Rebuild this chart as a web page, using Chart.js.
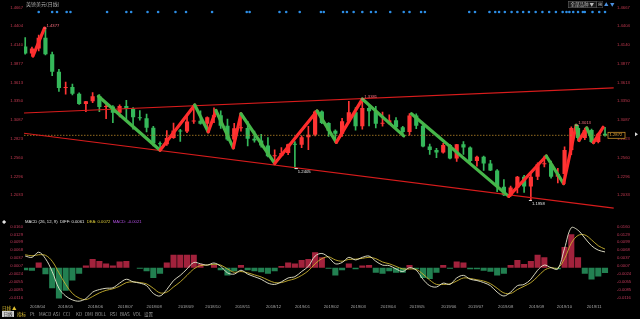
<!DOCTYPE html>
<html lang="zh-CN">
<head>
<meta charset="UTF-8">
<title>英镑美元(日线)</title>
<script src="https://cdn.jsdelivr.net/npm/chart.js"></script>
<style>
  html, body { margin: 0; padding: 0; background: #000; }
  body { position: relative; width: 640px; height: 319px; overflow: hidden; font-family: "Noto Sans CJK SC", "Liberation Sans", sans-serif; }
  canvas { position: absolute; left: 0; }
  #main { top: 0; }
  #macd { top: 218px; }
  .half { position: absolute; transform: scale(0.5); transform-origin: 0 0; white-space: nowrap; font-size: 9px; line-height: 12px; color: #9a9a9a; }
  .half span { position: absolute; top: 0; }
  .box { background: #cfcfcf; color: #111; padding: 0 3px; }
  .yel { color: #e0c030; }
</style>
</head>
<body>
<canvas id="main" width="640" height="218"></canvas>
<canvas id="macd" width="640" height="93"></canvas>

<div class="half" style="left:568px;top:1px;width:120px;height:14px;">
  <span style="left:0;border:1px solid #666;background:#1a1a1a;padding:0 4px;color:#bbb;">全部品种 ▼</span>
  <span style="left:56px;border:1px solid #555;padding:0 2px;color:#bbb;">⊞</span>
  <span style="left:72px;color:#4a90e0;">▲</span>
  <span style="left:84px;color:#4a90e0;">▼</span>
</div>
<div class="half" style="left:2px;top:305px;width:40px;height:12px;"><span class="yel" style="left:0;">日线 ▲</span></div>
<div class="half" style="left:0;top:311px;width:1280px;height:16px;">
  <span class="box" style="left:4px;">日线</span>
  <span class="yel" style="left:34px;">指标</span>
  <span style="left:60px;">Pt</span>
  <span style="left:78px;">MACD</span>
  <span style="left:106px;">ASI</span>
  <span style="left:126px;">CCI</span>
  <span style="left:152px;">KD</span>
  <span style="left:170px;">DMI</span>
  <span style="left:190px;">BOLL</span>
  <span style="left:220px;">RSI</span>
  <span style="left:240px;">BIAS</span>
  <span style="left:266px;">VOL</span>
  <span style="left:288px;">设置</span>
</div>

<script>
// weekly bars, Monday of each week
const weeks = ['2018/03/26','2018/04/02','2018/04/09','2018/04/16','2018/04/23','2018/04/30','2018/05/07','2018/05/14','2018/05/21','2018/05/28',
  '2018/06/04','2018/06/11','2018/06/18','2018/06/25','2018/07/02','2018/07/09','2018/07/16','2018/07/23','2018/07/30','2018/08/06',
  '2018/08/13','2018/08/20','2018/08/27','2018/09/03','2018/09/10','2018/09/17','2018/09/24','2018/10/01','2018/10/08','2018/10/15',
  '2018/10/22','2018/10/29','2018/11/05','2018/11/12','2018/11/19','2018/11/26','2018/12/03','2018/12/10','2018/12/17','2018/12/24',
  '2018/12/31','2019/01/07','2019/01/14','2019/01/21','2019/01/28','2019/02/04','2019/02/11','2019/02/18','2019/02/25','2019/03/04',
  '2019/03/11','2019/03/18','2019/03/25','2019/04/01','2019/04/08','2019/04/15','2019/04/22','2019/04/29','2019/05/06','2019/05/13',
  '2019/05/20','2019/05/27','2019/06/03','2019/06/10','2019/06/17','2019/06/24','2019/07/01','2019/07/08','2019/07/15','2019/07/22',
  '2019/07/29','2019/08/05','2019/08/12','2019/08/19','2019/08/26','2019/09/02','2019/09/09','2019/09/16','2019/09/23','2019/09/30',
  '2019/10/07','2019/10/14','2019/10/21','2019/10/28','2019/11/04','2019/11/11','2019/11/18'];
const opens = [1.4120,1.4020,1.4090,1.4240,1.4010,1.3765,1.3535,1.3550,1.3455,1.3310,
  1.3350,1.3420,1.3270,1.3275,1.3190,1.3285,1.3240,1.3125,1.3110,1.2980,
  1.2760,1.2745,1.2835,1.2940,1.2925,1.3065,1.3075,1.3035,1.3125,1.3155,
  1.3005,1.2815,1.2970,1.2975,1.2825,1.2800,1.2730,1.2580,1.2585,1.2625,
  1.2745,1.2740,1.2845,1.2880,1.3205,1.3045,1.2935,1.2895,1.3070,1.3195,
  1.3000,1.3255,1.3210,1.3035,1.3040,1.3085,1.2985,1.2920,1.3150,1.3005,
  1.2715,1.2665,1.2630,1.2735,1.2545,1.2745,1.2700,1.2510,1.2570,1.2475,
  1.2380,1.2150,1.2030,1.2140,1.2290,1.2155,1.2290,1.2465,1.2470,1.2290,
  1.2330,1.2665,1.2975,1.2835,1.2945,1.2780,1.2895];
const highs = [1.4245,1.4110,1.4280,1.4377,1.4040,1.3800,1.3620,1.3590,1.3470,1.3350,
  1.3472,1.3445,1.3310,1.3290,1.3300,1.3362,1.3260,1.3220,1.3170,1.3000,
  1.2780,1.2940,1.3045,1.2955,1.3140,1.3298,1.3215,1.3130,1.3258,1.3215,
  1.3100,1.3040,1.3175,1.3070,1.2930,1.2885,1.2840,1.2670,1.2700,1.2750,
  1.2785,1.2865,1.3000,1.3215,1.3215,1.3050,1.2950,1.3110,1.3350,1.3260,
  1.3381,1.3305,1.3280,1.3200,1.3160,1.3120,1.3000,1.3176,1.3175,1.3015,
  1.2750,1.2690,1.2760,1.2745,1.2745,1.2785,1.2710,1.2580,1.2580,1.2520,
  1.2390,1.2250,1.2160,1.2295,1.2310,1.2350,1.2485,1.2582,1.2510,1.2410,
  1.2710,1.2990,1.3013,1.2975,1.2960,1.2905,1.2985];
const lows = [1.4010,1.3985,1.4055,1.4000,1.3710,1.3490,1.3450,1.3440,1.3305,1.3205,
  1.3330,1.3205,1.3105,1.3050,1.3130,1.3100,1.2957,1.3085,1.2920,1.2725,
  1.2662,1.2730,1.2830,1.2785,1.2910,1.3040,1.3030,1.2920,1.3050,1.2970,
  1.2800,1.2696,1.2930,1.2725,1.2775,1.2705,1.2570,1.2477,1.2580,1.2600,
  1.2405,1.2700,1.2670,1.2865,1.3035,1.2855,1.2773,1.2855,1.3045,1.2945,
  1.2960,1.3005,1.2977,1.3000,1.3030,1.2960,1.2865,1.2875,1.2965,1.2710,
  1.2605,1.2560,1.2620,1.2540,1.2505,1.2605,1.2500,1.2440,1.2380,1.2375,
  1.2080,1.2025,1.2015,1.2065,1.2070,1.1958,1.2250,1.2430,1.2270,1.2205,
  1.2195,1.2600,1.2805,1.2810,1.2770,1.2765,1.2860];
const closes = [1.4020,1.4090,1.4240,1.4010,1.3765,1.3535,1.3550,1.3455,1.3310,1.3350,
  1.3420,1.3270,1.3275,1.3190,1.3285,1.3240,1.3125,1.3110,1.2980,1.2760,
  1.2745,1.2835,1.2940,1.2925,1.3065,1.3075,1.3035,1.3125,1.3155,1.3005,
  1.2815,1.2970,1.2975,1.2825,1.2800,1.2730,1.2580,1.2585,1.2625,1.2745,
  1.2740,1.2845,1.2880,1.3205,1.3045,1.2935,1.2895,1.3070,1.3195,1.3000,
  1.3255,1.3210,1.3035,1.3040,1.3085,1.2985,1.2920,1.3150,1.3005,1.2715,
  1.2665,1.2630,1.2735,1.2545,1.2745,1.2700,1.2510,1.2570,1.2475,1.2380,
  1.2150,1.2030,1.2140,1.2290,1.2155,1.2290,1.2465,1.2470,1.2290,1.2330,
  1.2665,1.2975,1.2835,1.2945,1.2780,1.2895,1.2872];

// MACD (26, 12, 9), sampled per week
const diffLine = [0.0045,0.0040,0.0060,0.0035,-0.0015,-0.0080,-0.0110,-0.0125,-0.0130,-0.0120,
  -0.0095,-0.0085,-0.0080,-0.0078,-0.0060,-0.0045,-0.0055,-0.0060,-0.0070,-0.0100,
  -0.0110,-0.0085,-0.0050,-0.0030,-0.0005,0.0020,0.0015,0.0010,0.0018,0.0005,
  -0.0020,-0.0025,-0.0010,-0.0025,-0.0035,-0.0045,-0.0060,-0.0065,-0.0055,-0.0040,
  -0.0035,-0.0015,0.0005,0.0045,0.0055,0.0040,0.0015,0.0020,0.0040,0.0030,
  0.0040,0.0045,0.0025,0.0010,0.0008,-0.0005,-0.0015,0.0000,-0.0010,-0.0045,
  -0.0070,-0.0075,-0.0060,-0.0065,-0.0040,-0.0030,-0.0045,-0.0050,-0.0058,-0.0070,
  -0.0095,-0.0110,-0.0095,-0.0070,-0.0065,-0.0045,-0.0010,0.0010,0.0000,-0.0005,
  0.0075,0.0155,0.0145,0.0115,0.0085,0.0068,0.0061];
const deaLine = [0.0050,0.0046,0.0050,0.0048,0.0025,-0.0020,-0.0065,-0.0100,-0.0118,-0.0124,
  -0.0112,-0.0098,-0.0088,-0.0082,-0.0072,-0.0058,-0.0055,-0.0058,-0.0063,-0.0080,
  -0.0098,-0.0095,-0.0075,-0.0055,-0.0030,-0.0005,0.0008,0.0010,0.0013,0.0010,
  -0.0005,-0.0018,-0.0015,-0.0020,-0.0028,-0.0036,-0.0048,-0.0058,-0.0058,-0.0050,
  -0.0043,-0.0030,-0.0012,0.0015,0.0035,0.0042,0.0030,0.0025,0.0032,0.0033,
  0.0036,0.0040,0.0035,0.0022,0.0015,0.0005,-0.0005,-0.0005,-0.0007,-0.0025,
  -0.0048,-0.0065,-0.0065,-0.0063,-0.0052,-0.0040,-0.0042,-0.0047,-0.0052,-0.0062,
  -0.0080,-0.0098,-0.0100,-0.0085,-0.0072,-0.0058,-0.0035,-0.0010,0.0000,-0.0002,
  0.0035,0.0095,0.0125,0.0127,0.0108,0.0085,0.0072];
const macdHist = [-0.0010,-0.0012,0.0020,-0.0026,-0.0080,-0.0120,-0.0090,-0.0050,-0.0024,0.0008,
  0.0034,0.0026,0.0016,0.0008,0.0024,0.0026,0.0000,-0.0004,-0.0014,-0.0040,
  -0.0024,0.0020,0.0050,0.0050,0.0050,0.0050,0.0014,0.0000,0.0010,-0.0010,
  -0.0030,-0.0014,0.0010,-0.0010,-0.0014,-0.0018,-0.0024,-0.0014,0.0006,0.0020,
  0.0016,0.0030,0.0034,0.0060,0.0040,-0.0004,-0.0030,-0.0010,0.0016,-0.0006,
  0.0008,0.0010,-0.0020,-0.0024,-0.0014,-0.0020,-0.0020,0.0010,-0.0006,-0.0040,
  -0.0044,-0.0020,0.0010,-0.0004,0.0024,0.0020,-0.0006,-0.0006,-0.0012,-0.0016,
  -0.0030,-0.0024,0.0010,0.0030,0.0014,0.0026,0.0050,0.0040,0.0000,-0.0006,
  0.0080,0.0130,0.0040,-0.0024,-0.0046,-0.0034,-0.0021];

// axis ticks as the platform prints them
const priceTicks = [1.2033,1.2296,1.2560,1.2823,1.3087,1.3350,1.3613,1.3877,1.4140,1.4404,1.4667];
const macdTicks = [-0.0116,-0.0085,-0.0055,-0.0024,0.0007,0.0037,0.0068,0.0099,0.0129,0.0160];
const monthStarts = ['2018/04/02','2018/05/01','2018/06/01','2018/07/02','2018/08/01','2018/09/03','2018/10/01','2018/11/01','2018/12/03','2019/01/02',
  '2019/02/01','2019/03/01','2019/04/01','2019/05/01','2019/06/03','2019/07/01','2019/08/01','2019/09/02','2019/10/01','2019/11/01'];
const monthLabels = ['2018/04','2018/05','2018/06','2018/07','2018/08','2018/09','2018/10','2018/11','2018/12','2019/01',
  '2019/02','2019/03','2019/04','2019/05','2019/06','2019/07','2019/08','2019/09','2019/10','2019/11'];

// swing (zigzag) points, null = break
const zigDates = ['2018/04/05','2018/04/17',null,'2018/06/12','2018/08/15','2018/09/20','2018/10/04','2018/10/12','2018/10/30','2018/11/07',
  '2018/12/12','2019/01/25','2019/02/14','2019/03/13','2019/04/25',null,'2019/05/03','2019/08/12','2019/09/20','2019/10/08',
  '2019/10/21','2019/10/24','2019/11/01','2019/11/08','2019/11/18'];
const zigPrices = [1.3985,1.4377,null,1.3420,1.2662,1.3298,1.2920,1.3220,1.2696,1.3175,
  1.2477,1.3215,1.2773,1.3381,1.2865,null,1.3176,1.2015,1.2582,1.2195,
  1.3013,1.2800,1.2976,1.2770,1.2985];

// channel
const channelDates = ['2018/03/25','2019/11/29'];
const upperChannel = [1.3185,1.3538];
const lowerChannel = [1.2905,1.1850];
const lastPrice = 1.2872;

// marked extremes
const extremeDates = ['2018/04/17','2019/03/13','2019/01/03','2019/10/21','2019/09/03'];
const extremePrices = [1.4377,1.3381,1.2405,1.3013,1.1958];
const extremeKinds = ['high','high','low','high','low'];

// signal markers along the top
const signalDates = ['2018/04/11','2018/04/25','2018/04/30','2018/05/10','2018/05/14','2018/06/21','2018/07/11','2018/07/16','2018/08/02','2018/08/13',
  '2018/08/31','2018/09/11','2018/10/08','2018/11/13','2018/11/16','2018/12/17','2018/12/24','2019/01/07','2019/01/29','2019/02/01',
  '2019/02/21','2019/02/25','2019/03/04','2019/03/13','2019/03/22','2019/03/27','2019/04/11','2019/04/25','2019/05/01','2019/05/13',
  '2019/05/17','2019/07/02','2019/07/08','2019/07/23','2019/07/29','2019/08/02','2019/08/08','2019/08/15','2019/08/21','2019/08/27',
  '2019/09/02','2019/09/09','2019/09/16','2019/09/23','2019/09/30','2019/10/07','2019/10/11','2019/10/14','2019/10/18','2019/10/23',
  '2019/10/28','2019/10/30','2019/11/07','2019/11/14','2019/11/20'];

const UP = '#ff3434', DOWN = '#35b85a';
const T0 = Date.UTC(2018, 2, 26);
// week index position of a date (each weekly bar sits on its Wednesday)
function xOf(s) {
  const [yy, mm, dd] = s.split('/').map(Number);
  return ((Date.UTC(yy, mm - 1, dd) - T0) / 86400000 - 2) / 7;
}

Chart.defaults.font.family = '"Liberation Sans", sans-serif';
Chart.defaults.animation = false;
Chart.defaults.events = [];
Chart.defaults.plugins.legend.display = false;
Chart.defaults.plugins.tooltip.enabled = false;

const X_MIN = -0.18, X_MAX = 87.48;
const candleColors = closes.map((c, i) => c >= opens[i] ? UP : DOWN);

function sideAxis(pos, min, max, tickList, color, width) {
  return {
    type: 'linear', position: pos, min: min, max: max, bounds: 'data',
    grid: { display: false, drawTicks: false }, border: { display: false },
    afterBuildTicks: s => { s.ticks = tickList.map(v => ({ value: v })); },
    afterFit: s => { s.width = width; },
    ticks: { autoSkip: false, color: color, padding: pos === 'left' ? 1 : 2, font: { size: 4.2 },
      callback: v => v.toFixed(4) }
  };
}

const mainDecor = {
  id: 'mainDecor',
  afterDraw(chart) {
    const { ctx, chartArea } = chart;
    const x = chart.scales.x, y = chart.scales.y;
    ctx.save();
    ctx.textBaseline = 'middle';
    ctx.font = '5px "Noto Sans CJK SC"';
    ctx.fillStyle = '#b0b0b0';
    ctx.fillText('英镑美元(日线)', 26, 4.5);

    ctx.fillStyle = '#2d8ee6';
    signalDates.forEach(d => {
      ctx.beginPath();
      ctx.arc(x.getPixelForValue(xOf(d)), 12, 1.3, 0, Math.PI * 2);
      ctx.fill();
    });

    ctx.font = '4.2px "Liberation Sans"';
    extremeDates.forEach((d, i) => {
      const px = x.getPixelForValue(xOf(d)), py = y.getPixelForValue(extremePrices[i]);
      const high = extremeKinds[i] === 'high';
      ctx.fillStyle = high ? '#ff7080' : '#e6e6e6';
      ctx.fillRect(px - 1, py - 0.5, 3, 1);
      ctx.fillText(extremePrices[i].toFixed(4), px + 2, high ? py - 2.5 : py + 3);
    });

    const ly = y.getPixelForValue(lastPrice);
    ctx.fillStyle = '#000';
    ctx.fillRect(chartArea.right - 7, ly - 3, 17, 6);
    ctx.strokeStyle = '#c8902a';
    ctx.lineWidth = 0.8;
    ctx.strokeRect(chartArea.right - 7, ly - 3, 17, 6);
    ctx.fillStyle = '#e8a838';
    ctx.fillText(lastPrice.toFixed(4), chartArea.right - 5.5, ly);
    ctx.fillStyle = '#d8d8d8';
    ctx.beginPath();
    ctx.moveTo(635, ly - 3); ctx.lineTo(638, ly - 1); ctx.lineTo(635, ly + 1); ctx.closePath();
    ctx.fill();
    ctx.restore();
  }
};

new Chart(document.getElementById('main'), {
  data: {
    datasets: [
      {
        type: 'line', order: 0,
        data: zigDates.map((d, i) => ({ x: d ? xOf(d) : xOf(zigDates[i - 1]), y: zigPrices[i] })),
        borderWidth: 3.2, pointRadius: 0, borderCapStyle: 'round', spanGaps: false,
        segment: { borderColor: c => c.p1.parsed.y >= c.p0.parsed.y ? '#ff2c2c' : '#46b649' }
      },
      {
        type: 'line', order: 1,
        data: channelDates.map((d, i) => ({ x: xOf(d), y: upperChannel[i] })),
        borderColor: '#d81c1c', borderWidth: 1.1, pointRadius: 0
      },
      {
        type: 'line', order: 1,
        data: channelDates.map((d, i) => ({ x: xOf(d), y: lowerChannel[i] })),
        borderColor: '#d81c1c', borderWidth: 1.1, pointRadius: 0
      },
      {
        type: 'line', order: 2,
        data: [{ x: X_MIN, y: lastPrice }, { x: X_MAX, y: lastPrice }],
        borderColor: '#b8862a', borderWidth: 0.8, borderDash: [1.5, 1.5], pointRadius: 0
      },
      {
        type: 'bar', order: 3, grouped: false,
        data: weeks.map((w, i) => ({ x: i, y: [opens[i], closes[i]] })),
        backgroundColor: candleColors, barPercentage: 0.62, categoryPercentage: 1, minBarLength: 1
      },
      {
        type: 'bar', order: 4, grouped: false,
        data: weeks.map((w, i) => ({ x: i, y: [lows[i], highs[i]] })),
        backgroundColor: candleColors, barThickness: 1
      }
    ]
  },
  options: {
    responsive: false,
    layout: { padding: { top: 2, bottom: 0, left: 0, right: 0 } },
    scales: {
      x: { type: 'linear', min: X_MIN, max: X_MAX, bounds: 'data', offset: false, display: false },
      y: sideAxis('left', 1.1775, 1.4708, priceTicks, '#c0394f', 24),
      yR: sideAxis('right', 1.1775, 1.4708, priceTicks, '#c0394f', 25)
    }
  },
  plugins: [mainDecor]
});

const macdDecor = {
  id: 'macdDecor',
  afterDraw(chart) {
    const ctx = chart.ctx;
    const n = diffLine.length - 1;
    ctx.save();
    ctx.textBaseline = 'middle';
    ctx.font = '4.2px "Liberation Sans"';
    let tx = 25;
    const parts = [
      ['MACD (26, 12, 9)  DIFF: ' + diffLine[n].toFixed(4) + '  ', '#e0e0e0'],
      ['DEA: ' + deaLine[n].toFixed(4) + '  ', '#d8c838'],
      ['MACD: ' + macdHist[n].toFixed(4), '#b050e0']
    ];
    parts.forEach(([t, c]) => { ctx.fillStyle = c; ctx.fillText(t, tx, 4); tx += ctx.measureText(t).width; });
    ctx.fillStyle = '#e0e0e0';
    ctx.fillText('◆', 1.5, 4);
    ctx.restore();
  }
};

new Chart(document.getElementById('macd'), {
  data: {
    datasets: [
      {
        type: 'line', order: 0, data: weeks.map((w, i) => ({ x: i, y: diffLine[i] })),
        borderColor: '#ecebd2', borderWidth: 0.9, pointRadius: 0, tension: 0.35
      },
      {
        type: 'line', order: 1, data: weeks.map((w, i) => ({ x: i, y: deaLine[i] })),
        borderColor: '#c9b230', borderWidth: 0.9, pointRadius: 0, tension: 0.35
      },
      {
        type: 'bar', order: 2, data: weeks.map((w, i) => ({ x: i, y: macdHist[i] })),
        backgroundColor: macdHist.map(v => v >= 0 ? 'rgba(190,40,70,0.85)' : 'rgba(40,150,95,0.85)'),
        barPercentage: 0.9, categoryPercentage: 1
      }
    ]
  },
  options: {
    responsive: false,
    layout: { padding: { top: 3, bottom: 0, left: 0, right: 0 } },
    scales: {
      x: {
        type: 'linear', min: X_MIN, max: X_MAX, bounds: 'data', offset: false,
        grid: { display: false, drawTicks: false, offset: false }, border: { display: false },
        afterBuildTicks: s => { s.ticks = monthStarts.map(d => ({ value: xOf(d) })); },
        afterFit: s => { s.height = 8.5; },
        ticks: { autoSkip: false, maxRotation: 0, align: 'start', padding: 1.5, color: '#a8a8a8', font: { size: 4.2 },
          callback: (v, i) => monthLabels[i] }
      },
      y: sideAxis('left', -0.01352, 0.01751, macdTicks, '#c0395a', 24),
      yR: sideAxis('right', -0.01352, 0.01751, macdTicks, '#c0395a', 25)
    }
  },
  plugins: [macdDecor]
});
</script>
</body>
</html>
